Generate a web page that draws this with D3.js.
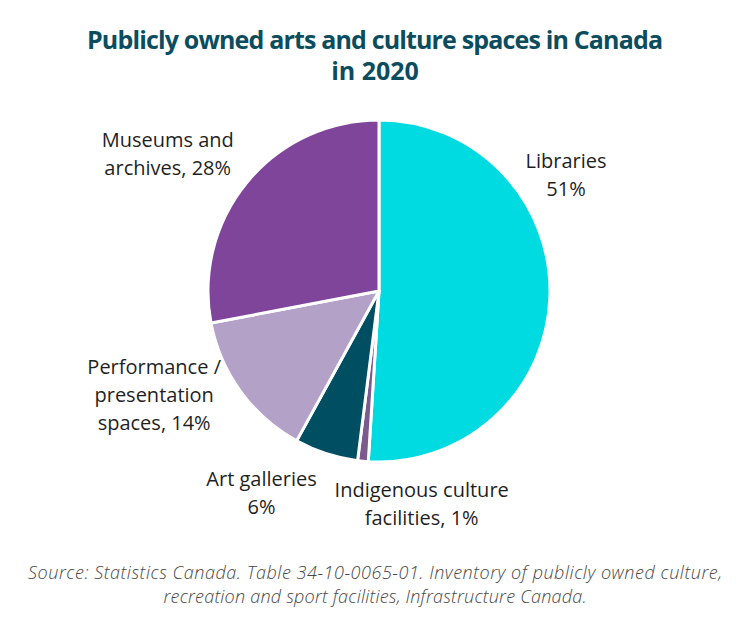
<!DOCTYPE html>
<html>
<head>
<meta charset="utf-8">
<script src="https://cdn.jsdelivr.net/npm/d3@7"></script>
<style>
  body { margin: 0; background: #fff; }
  svg { display: block; font-family: "Open Sans", "Noto Sans", sans-serif; }
</style>
</head>
<body>
<div id="chart"></div>
<script>
var svgWidth = 750;
var svgHeight = 630;

// Data
var categories = ["Libraries", "Indigenous culture facilities", "Art galleries",
  "Performance / presentation spaces", "Museums and archives"];
var shares = [51, 1, 6, 14, 28];
var colors = ["#00dbe2", "#7b5a8e", "#004e62", "#b3a1c8", "#7f459a"];
var labelLines = [
  ["Libraries", "51%"],
  ["Indigenous culture", "facilities, 1%"],
  ["Art galleries", "6%"],
  ["Performance /", "presentation", "spaces, 14%"],
  ["Museums and", "archives, 28%"]
];
var titleLines = ["Publicly owned arts and culture spaces in Canada", "in 2020"];
var sourceLines = ["Source: Statistics Canada. Table 34-10-0065-01. Inventory of publicly owned culture,",
  "recreation and sport facilities, Infrastructure Canada."];

var cx = 379, cy = 291, radius = 171;

var svg = d3.select("#chart")
  .append("svg")
  .attr("width", svgWidth)
  .attr("height", svgHeight);

// title
var title = svg.append("g").selectAll("text")
  .data(titleLines)
  .enter()
  .append("text")
  .attr("x", svgWidth / 2)
  .attr("y", (d, i) => 49 + i * 31)
  .attr("text-anchor", "middle")
  .attr("font-size", 25)
  .attr("font-weight", "bold")
  .attr("fill", "#0b4d5e")
  .text(d => d);
title.filter((d, i) => i === 0)
  .attr("textLength", 576)
  .attr("lengthAdjust", "spacing");

var data = categories.map((c, i) => ({ name: c, value: shares[i], color: colors[i], lines: labelLines[i] }));

var pie = d3.pie().sort(null).value(d => d.value);
var arc = d3.arc().innerRadius(0).outerRadius(radius);

var pieGroup = svg.append("g")
  .attr("transform", `translate(${cx}, ${cy})`);

var arcs = pie(data);

pieGroup.selectAll("path")
  .data(arcs)
  .enter()
  .append("path")
  .attr("d", arc)
  .attr("fill", d => d.data.color)
  .attr("stroke", "#fff")
  .attr("stroke-width", 3)
  .attr("stroke-linejoin", "round");

// label anchor: slice mid angle pushed out, then nudged like the original layout
var labelRadius = [1.1, 1.2, 1.2, 1.3, 1.3];
var labelShift = [[-1, -122], [62, 9], [-54, 7], [-45, -27], [-40, 5]];
var lineGap = 28;

var labels = pieGroup.append("g")
  .selectAll("text")
  .data(arcs)
  .enter()
  .append("text")
  .attr("text-anchor", "middle")
  .attr("font-size", 20)
  .attr("fill", "#1f1f1f")
  .attr("transform", (d, i) => {
    var a = (d.startAngle + d.endAngle) / 2;
    var r = radius * labelRadius[i];
    var x = Math.sin(a) * r + labelShift[i][0];
    var y = -Math.cos(a) * r + labelShift[i][1];
    var n = d.data.lines.length;
    return `translate(${x}, ${y - (n - 1) * lineGap / 2})`;
  });

labels.selectAll("tspan")
  .data(d => d.data.lines)
  .enter()
  .append("tspan")
  .attr("x", 0)
  .attr("y", (d, i) => i * lineGap)
  .attr("dy", "0.35em")
  .text(d => d);

// source note
var source = svg.append("g").selectAll("text")
  .data(sourceLines)
  .enter()
  .append("text")
  .attr("x", svgWidth / 2)
  .attr("y", (d, i) => 579 + i * 24)
  .attr("text-anchor", "middle")
  .attr("font-size", 18)
  .attr("font-weight", 300)
  .attr("font-style", "italic")
  .attr("fill", "#474747")
  .attr("textLength", (d, i) => i === 0 ? 694 : 423)
  .attr("lengthAdjust", "spacing")
  .text(d => d);
</script>
</body>
</html>
